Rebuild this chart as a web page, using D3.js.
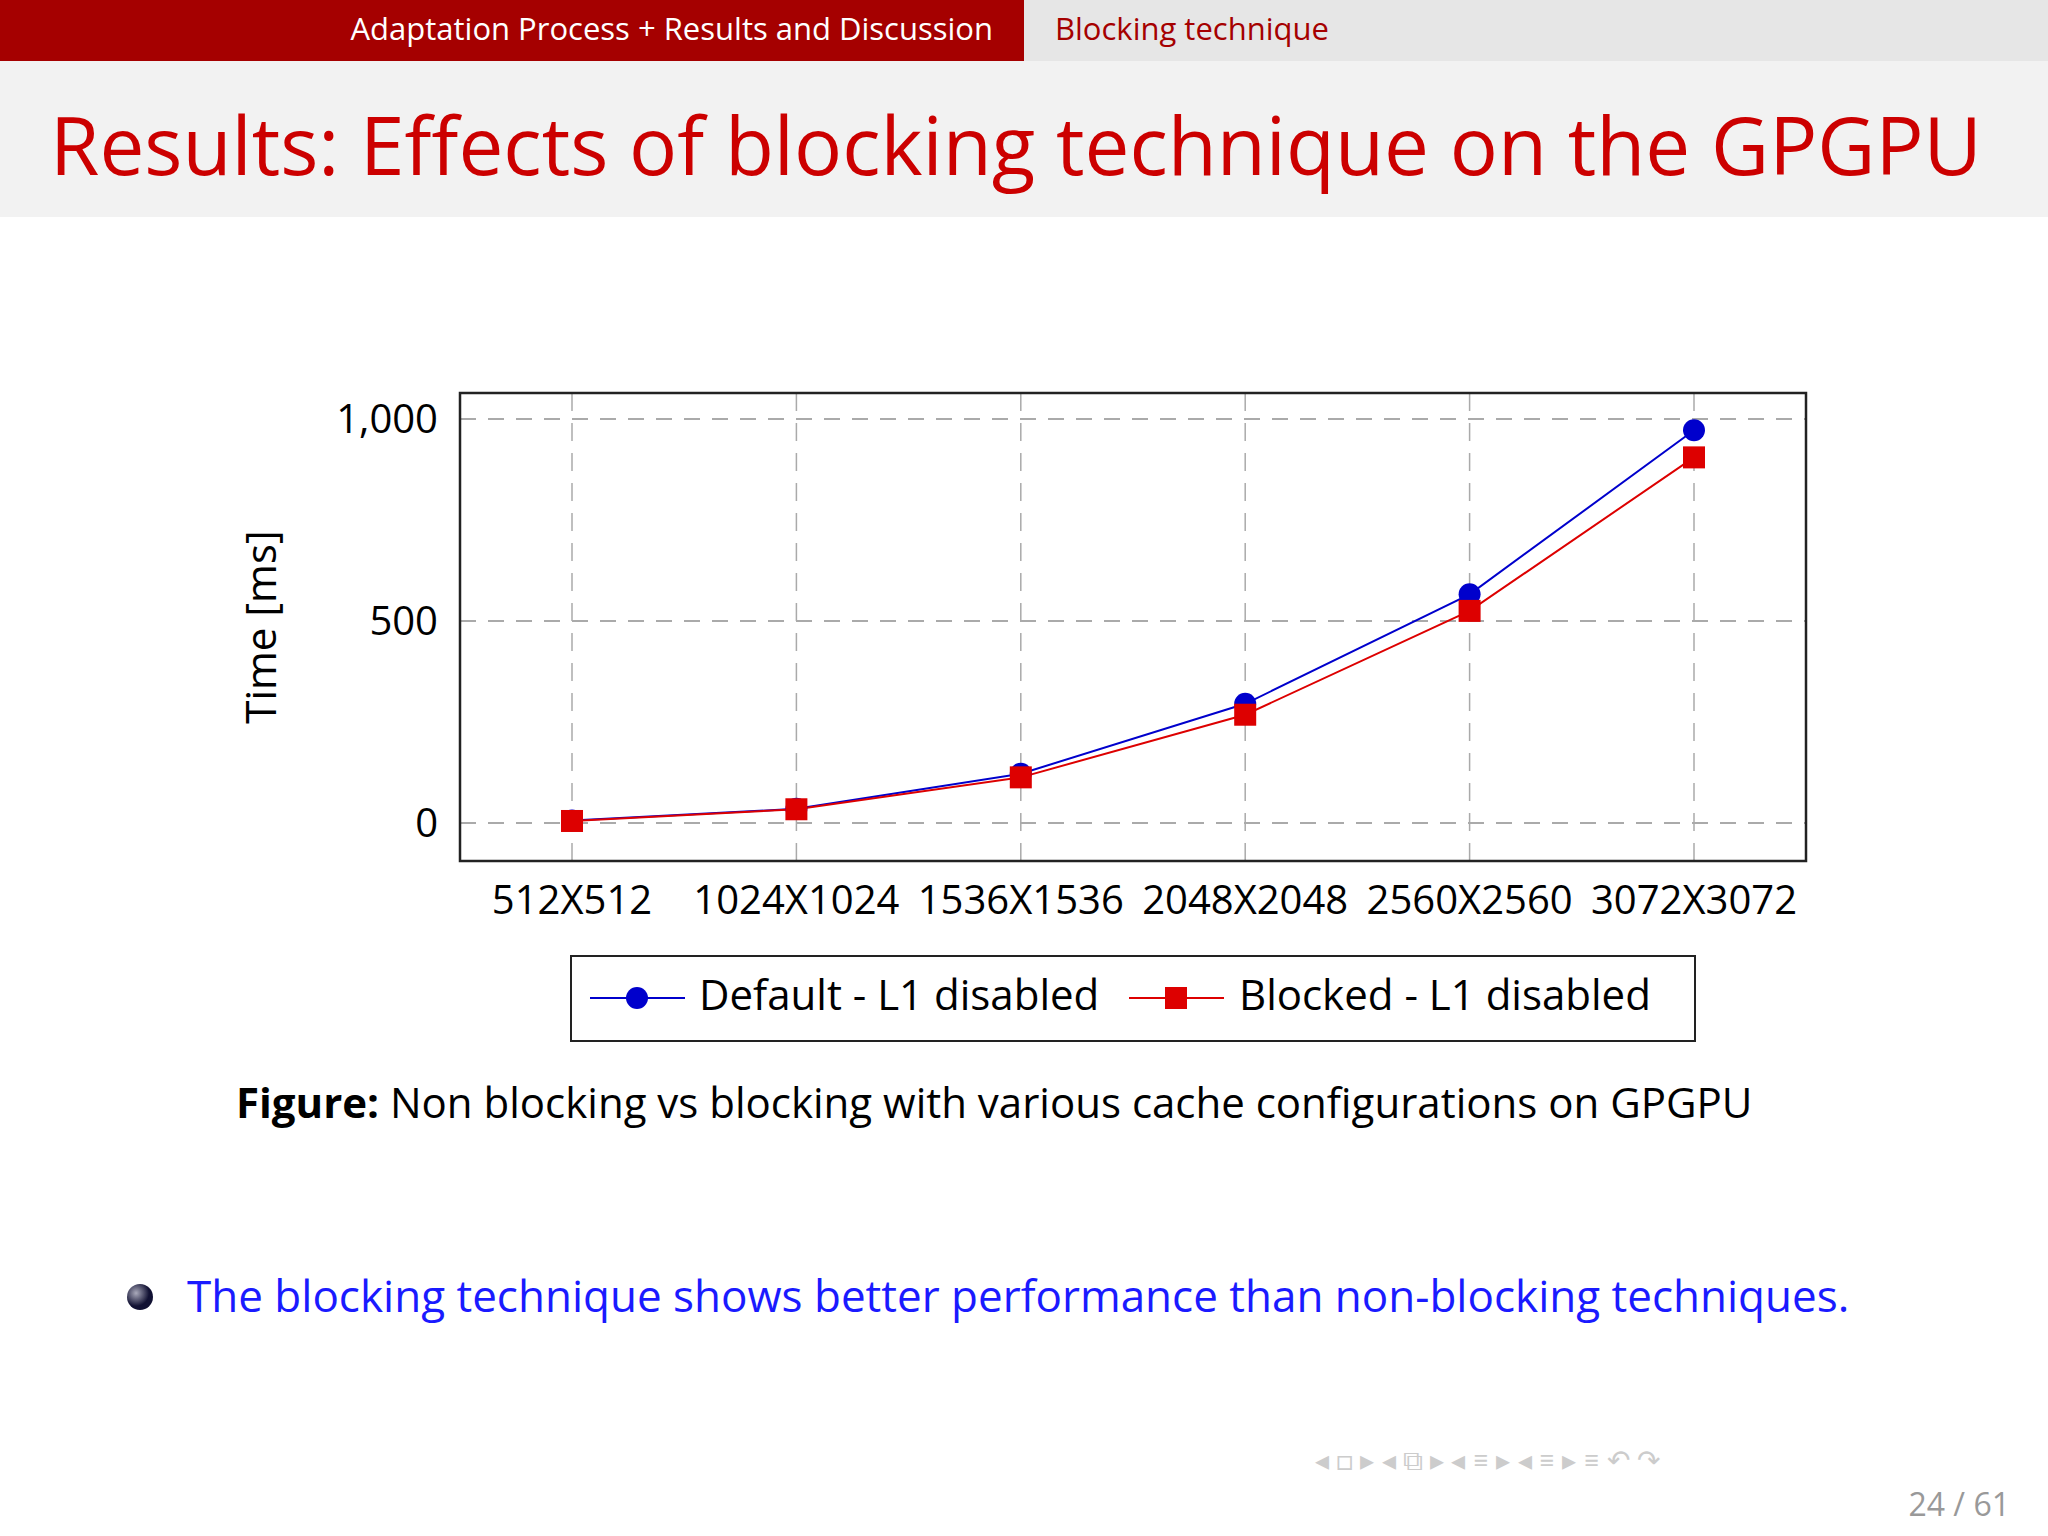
<!DOCTYPE html>
<html>
<head>
<meta charset="UTF-8">
<script src="https://cdn.jsdelivr.net/npm/d3@7"></script>
<style>
body { margin:0; background:#fff; }
text { font-family: "Open Sans", Lato, sans-serif; }
</style>
</head>
<body>
<script>
var W = 2048, H = 1536;
var categories = ["512X512","1024X1024","1536X1536","2048X2048","2560X2560","3072X3072"];
var defaultL1 = [6, 35, 122, 295, 566, 972];
var blockedL1 = [5, 34, 113, 268, 525, 905];
var yTicks = [0, 500, 1000];

var svg = d3.select("body").append("svg").attr("width", W).attr("height", H);

// header
svg.append("rect").attr("x",0).attr("y",0).attr("width",1024).attr("height",61).attr("fill","#a50000");
svg.append("rect").attr("x",1024).attr("y",0).attr("width",1024).attr("height",61).attr("fill","#e6e6e6");
svg.append("text").attr("x",993).attr("y",40).attr("text-anchor","end").attr("fill","#fff").attr("font-size",31).text("Adaptation Process + Results and Discussion");
svg.append("text").attr("x",1055).attr("y",40).attr("fill","#a50000").attr("font-size",31).text("Blocking technique");
svg.append("rect").attr("x",0).attr("y",61).attr("width",W).attr("height",156).attr("fill","#f2f2f2");
svg.append("text").attr("x",50).attr("y",175).attr("fill","#cc0000").attr("font-size",80).text("Results:  Effects of blocking technique on the GPGPU");

// plot
var L = 460, R = 1806, T = 393, B = 861;
var x = d3.scalePoint().domain(categories).range([572, 1694]);
var y = d3.scaleLinear().domain([0, 1000]).range([823, 419]);

var g = svg.append("g");
g.selectAll(".vg").data(categories).enter().append("line")
  .attr("x1", d => x(d)).attr("x2", d => x(d)).attr("y1", T).attr("y2", B)
  .attr("stroke","#aaa").attr("stroke-width",1.5).attr("stroke-dasharray","18,12");
g.selectAll(".hg").data(yTicks).enter().append("line")
  .attr("x1", L).attr("x2", R).attr("y1", d => y(d)).attr("y2", d => y(d))
  .attr("stroke","#aaa").attr("stroke-width",2).attr("stroke-dasharray","16,12");
g.append("rect").attr("x",L).attr("y",T).attr("width",R-L).attr("height",B-T)
  .attr("fill","none").attr("stroke","#222").attr("stroke-width",2.5);

g.selectAll(".yl").data(yTicks).enter().append("text")
  .attr("x", 438).attr("y", d => y(d) + 14).attr("text-anchor","end").attr("font-size",40)
  .text(d => d3.format(",")(d));
g.selectAll(".xl").data(categories).enter().append("text")
  .attr("x", d => x(d)).attr("y", 914).attr("text-anchor","middle").attr("font-size",40)
  .text(d => d);
svg.append("text").attr("transform","translate(276,627) rotate(-90)").attr("text-anchor","middle")
  .attr("font-size",42).text("Time [ms]");

var line = d3.line().x((d,i) => x(categories[i])).y(d => y(d));
g.append("path").datum(defaultL1).attr("d", line).attr("fill","none").attr("stroke","#0000cc").attr("stroke-width",2);
g.append("path").datum(blockedL1).attr("d", line).attr("fill","none").attr("stroke","#dd0000").attr("stroke-width",2);
g.selectAll(".dc").data(defaultL1).enter().append("circle")
  .attr("cx", (d,i) => x(categories[i])).attr("cy", d => y(d)).attr("r", 11).attr("fill","#0000cc");
g.selectAll(".bs").data(blockedL1).enter().append("rect")
  .attr("x", (d,i) => x(categories[i]) - 11).attr("y", d => y(d) - 11)
  .attr("width",22).attr("height",22).attr("fill","#dd0000");

// legend
var lg = svg.append("g");
lg.append("rect").attr("x",571).attr("y",956).attr("width",1124).attr("height",85)
  .attr("fill","none").attr("stroke","#222").attr("stroke-width",2);
lg.append("line").attr("x1",590).attr("x2",685).attr("y1",998).attr("y2",998).attr("stroke","#0000cc").attr("stroke-width",2);
lg.append("circle").attr("cx",637).attr("cy",998).attr("r",11).attr("fill","#0000cc");
lg.append("text").attr("x",699).attr("y",1010).attr("font-size",42).text("Default - L1 disabled");
lg.append("line").attr("x1",1129).attr("x2",1224).attr("y1",998).attr("y2",998).attr("stroke","#dd0000").attr("stroke-width",2);
lg.append("rect").attr("x",1165).attr("y",987).attr("width",22).attr("height",22).attr("fill","#dd0000");
lg.append("text").attr("x",1239).attr("y",1010).attr("font-size",42).text("Blocked - L1 disabled");

// caption
var cap = svg.append("text").attr("x",236).attr("y",1118).attr("font-size",42);
cap.append("tspan").attr("font-weight","bold").text("Figure:");
cap.append("tspan").text(" Non blocking vs blocking with various cache configurations on GPGPU");

// bullet
var grad = svg.append("defs").append("radialGradient").attr("id","bg").attr("cx","35%").attr("cy","35%");
grad.append("stop").attr("offset","0%").attr("stop-color","#aab");
grad.append("stop").attr("offset","100%").attr("stop-color","#113");
svg.append("circle").attr("cx",140).attr("cy",1297).attr("r",13).attr("fill","url(#bg)");
svg.append("text").attr("x",187).attr("y",1312).attr("fill","#1a1aff").attr("font-size",44)
  .text("The blocking technique shows better performance than non-blocking techniques.");

svg.append("text").attr("x",2010).attr("y",1516).attr("text-anchor","end").attr("fill","#999").attr("font-size",32).text("24 / 61");
svg.append("text").attr("x",1315).attr("y",1470).attr("fill","#ccc").attr("font-size",28).text("◂ □ ▸   ◂ ⧉ ▸   ◂ ≡ ▸   ◂ ≡ ▸     ≡     ↶ ↷");
</script>
</body>
</html>
